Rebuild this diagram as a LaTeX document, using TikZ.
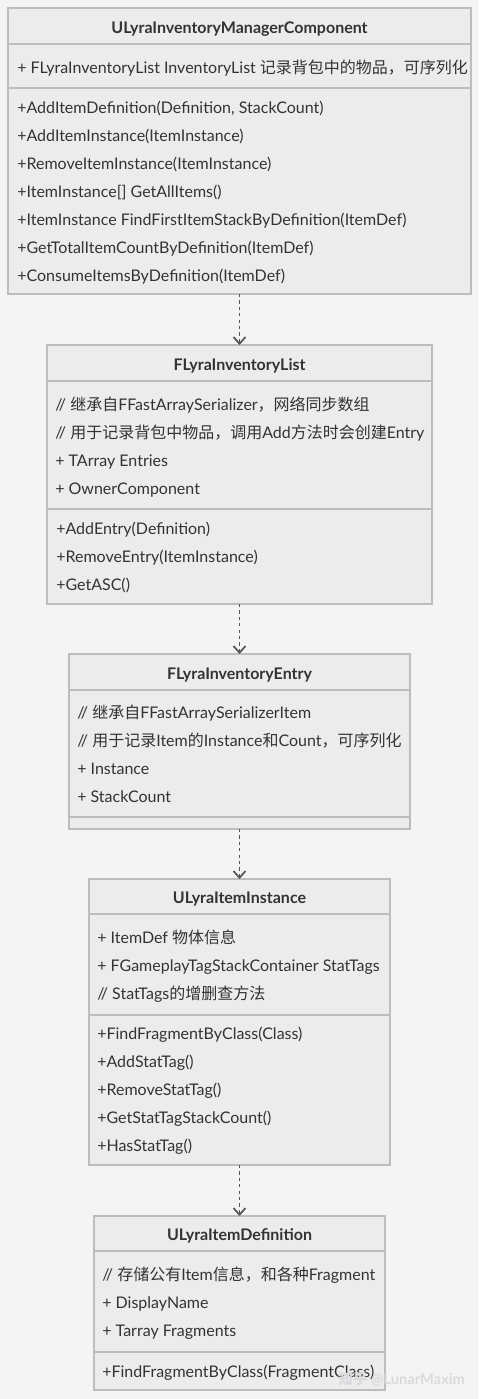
\documentclass[tikz,border=0pt]{standalone}
\usepackage{fontspec}
\setmainfont{Lato}
\newfontfamily\cjk{Noto Sans CJK SC}
\usetikzlibrary{arrows.meta}
\definecolor{bg}{HTML}{F4F4F4}
\definecolor{boxfill}{HTML}{ECECEC}
\definecolor{boxline}{HTML}{BDBDBD}
\definecolor{txtc}{HTML}{333333}
\definecolor{arrowc}{HTML}{555555}
\definecolor{wmark}{HTML}{DADADE}
\newcommand\zh[1]{{\cjk #1}}
\begin{document}
\begin{tikzpicture}[x=0.75pt,y=-0.75pt,
  box/.style={draw=boxline, fill=boxfill, line width=1.4pt, inner sep=0pt, outer sep=0pt, anchor=north west},
  div/.style={draw=boxline, line width=1.4pt},
  txt/.style={anchor=west, inner sep=0pt, text=txtc, text height=10.5pt, text depth=1.5pt, font=\fontsize{12}{14}\selectfont},
  ttl/.style={inner sep=0pt, text=txtc, text height=10.5pt, text depth=1.5pt, font=\bfseries\fontsize{12}{14}\selectfont},
  dep/.style={draw=arrowc, line width=0.8pt, dash pattern=on 2.4pt off 2.4pt, -{Straight Barb[length=5pt,width=9pt,line width=1.3pt]}}
]
\fill[bg] (0,0) rectangle (479,1399);
\useasboundingbox (0,0) rectangle (479,1399);

% Box 1
\node[box, minimum width=463*0.75pt, minimum height=286*0.75pt] (b1) at (8,8) {};
\draw[div] (b1.west |- 0,44) -- (b1.east |- 0,44);
\draw[div] (b1.west |- 0,88) -- (b1.east |- 0,88);
\node[ttl] (b1t) at (239.5,27) {ULyraInventoryManagerComponent};
\node[txt] (b1a) at (17,67) {+ FLyraInventoryList InventoryList \zh{记录背包中的物品，可序列化}};
\node[txt] (b1m1) at (17,107) {+AddItemDefinition(Definition, StackCount)};
\node[txt] (b1m2) at (17,135) {+AddItemInstance(ItemInstance)};
\node[txt] (b1m3) at (17,163) {+RemoveItemInstance(ItemInstance)};
\node[txt] (b1m4) at (17,191) {+ItemInstance[] GetAllItems()};
\node[txt] (b1m5) at (17,219) {+ItemInstance FindFirstItemStackByDefinition(ItemDef)};
\node[txt] (b1m6) at (17,247) {+GetTotalItemCountByDefinition(ItemDef)};
\node[txt] (b1m7) at (17,275) {+ConsumeItemsByDefinition(ItemDef)};

% Box 2
\node[box, minimum width=385*0.75pt, minimum height=259*0.75pt] (b2) at (47,345) {};
\draw[div] (b2.west |- 0,381) -- (b2.east |- 0,381);
\draw[div] (b2.west |- 0,509) -- (b2.east |- 0,509);
\node[ttl] (b2t) at (239.5,364) {FLyraInventoryList};
\node[txt] (b2a1) at (55,404) {// \zh{继承自}FFastArraySerializer\zh{，网络同步数组}};
\node[txt] (b2a2) at (55,432) {// \zh{用于记录背包中物品，调用}Add\zh{方法时会创建}Entry};
\node[txt] (b2a3) at (55,460) {+ TArray Entries};
\node[txt] (b2a4) at (55,488) {+ OwnerComponent};
\node[txt] (b2m1) at (56,528) {+AddEntry(Definition)};
\node[txt] (b2m2) at (56,556) {+RemoveEntry(ItemInstance)};
\node[txt] (b2m3) at (56,584) {+GetASC()};

% Box 3
\node[box, minimum width=341*0.75pt, minimum height=175*0.75pt] (b3) at (69,654) {};
\draw[div] (b3.west |- 0,690) -- (b3.east |- 0,690);
\draw[div] (b3.west |- 0,817) -- (b3.east |- 0,817);
\node[ttl] (b3t) at (239.5,673) {FLyraInventoryEntry};
\node[txt] (b3a1) at (77,712) {// \zh{继承自}FFastArraySerializerItem};
\node[txt] (b3a2) at (77,740) {// \zh{用于记录}Item\zh{的}Instance\zh{和}Count\zh{，可序列化}};
\node[txt] (b3a3) at (77,768) {+ Instance};
\node[txt] (b3a4) at (77,796) {+ StackCount};

% Box 4
\node[box, minimum width=301*0.75pt, minimum height=286*0.75pt] (b4) at (89,879) {};
\draw[div] (b4.west |- 0,914) -- (b4.east |- 0,914);
\draw[div] (b4.west |- 0,1015) -- (b4.east |- 0,1015);
\node[ttl] (b4t) at (239.5,897) {ULyraItemInstance};
\node[txt] (b4a1) at (97,937) {+ ItemDef \zh{物体信息}};
\node[txt] (b4a2) at (97,965) {+ FGameplayTagStackContainer StatTags};
\node[txt] (b4a3) at (97,993) {// StatTags\zh{的增删查方法}};
\node[txt] (b4m1) at (97,1033) {+FindFragmentByClass(Class)};
\node[txt] (b4m2) at (97,1061) {+AddStatTag()};
\node[txt] (b4m3) at (97,1089) {+RemoveStatTag()};
\node[txt] (b4m4) at (97,1117) {+GetStatTagStackCount()};
\node[txt] (b4m5) at (97,1145) {+HasStatTag()};

% Box 5
\node[box, minimum width=291*0.75pt, minimum height=174*0.75pt] (b5) at (94,1216) {};
\draw[div] (b5.west |- 0,1251) -- (b5.east |- 0,1251);
\draw[div] (b5.west |- 0,1352) -- (b5.east |- 0,1352);
\node[ttl] (b5t) at (239.5,1234) {ULyraItemDefinition};
\node[txt] (b5a1) at (102,1274) {// \zh{存储公有}Item\zh{信息，和各种}Fragment};
\node[txt] (b5a2) at (102,1302) {+ DisplayName};
\node[txt] (b5a3) at (102,1330) {+ Tarray Fragments};
\node[txt] (b5m1) at (102,1371) {+FindFragmentByClass(FragmentClass)};

% watermark
\node[txt, text=wmark, font=\bfseries\fontsize{11}{13}\selectfont] (wm) at (338,1378) {\zh{知乎} @LunarMaxim};

% connectors
\draw[dep] (b1.south) -- (b2.north);
\draw[dep] (b2.south) -- (b3.north);
\draw[dep] (b3.south) -- (b4.north);
\draw[dep] (b4.south) -- (b5.north);
\end{tikzpicture}
\end{document}
